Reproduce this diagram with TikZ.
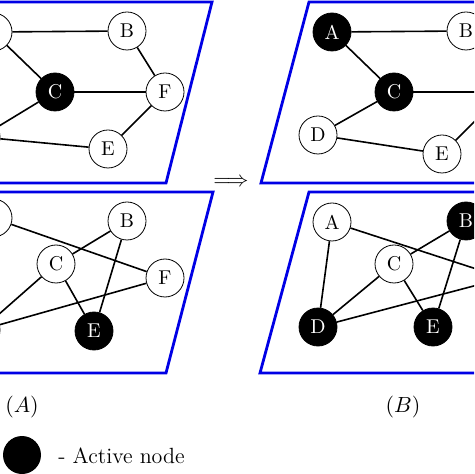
\documentclass[tikz,border=0pt]{standalone}
\begin{document}
\begin{tikzpicture}[x=0.5pt,y=-0.5pt,
  vtx/.style={circle,draw=black,line width=0.4pt,fill=white,minimum size=19pt,inner sep=0pt,font=\normalsize},
  act/.style={vtx,fill=black,text=white},
  edge/.style={line width=0.8pt},
  lbl/.style={font=\fontsize{11}{13}\selectfont},
  panel/.style={draw=blue!90!black,line width=1.4pt}]
\useasboundingbox (0,0) rectangle (474,474);
\clip (0,0) rectangle (474,474);
% panels
\draw[panel] (-29,2) -- (212,2) -- (166,183) -- (-77,183) -- cycle;
\draw[panel] (309,2) -- (551,2) -- (505,183) -- (261,183) -- cycle;
\draw[panel] (-29,192) -- (213,192) -- (166,373) -- (-77,373) -- cycle;
\draw[panel] (309,192) -- (551,192) -- (505,373) -- (260,373) -- cycle;
% top-left graph
\node[vtx] (tlA) at (-7,32) {A};
\node[vtx] (tlB) at (127,31) {B};
\node[act] (tlC) at (55,92) {C};
\node[vtx] (tlD) at (-19,137) {D};
\node[vtx] (tlE) at (108,149) {E};
\node[vtx] (tlF) at (165,92) {F};
% top-right graph
\node[act] (trA) at (332,32) {A};
\node[vtx] (trB) at (466,31) {B};
\node[act] (trC) at (394,92) {C};
\node[vtx] (trD) at (318,135) {D};
\node[vtx] (trE) at (442,154) {E};
\node[vtx] (trF) at (504,92) {F};
% bottom-left graph
\node[vtx] (blA) at (-7,218) {A};
\node[vtx] (blB) at (127,221) {B};
\node[vtx] (blC) at (56,264) {C};
\node[vtx] (blD) at (-19,330) {D};
\node[act] (blE) at (94,331) {E};
\node[vtx] (blF) at (165,278) {F};
% bottom-right graph
\node[vtx] (brA) at (332,222) {A};
\node[act] (brB) at (466,221) {B};
\node[vtx] (brC) at (394,264) {C};
\node[act] (brD) at (318,327) {D};
\node[act] (brE) at (433,327) {E};
\node[vtx] (brF) at (504,278) {F};
% edges
\foreach \p in {tl,tr}{
  \draw[edge] (\p A) -- (\p B);
  \draw[edge] (\p A) -- (\p C);
  \draw[edge] (\p C) -- (\p F);
  \draw[edge] (\p B) -- (\p F);
  \draw[edge] (\p C) -- (\p D);
  \draw[edge] (\p D) -- (\p E);
  \draw[edge] (\p E) -- (\p F);
}
\foreach \p in {bl,br}{
  \draw[edge] (\p A) -- (\p F);
  \draw[edge] (\p A) -- (\p D);
  \draw[edge] (\p B) -- (\p C);
  \draw[edge] (\p B) -- (\p E);
  \draw[edge] (\p C) -- (\p D);
  \draw[edge] (\p C) -- (\p E);
  \draw[edge] (\p D) -- (\p F);
}
% arrow
\node[lbl,inner sep=0pt] (arr) at (231,182) {$\Longrightarrow$};
% labels
\node[lbl] (labA) at (22,407) {$(A)$};
\node[lbl] (labB) at (403,407) {$(B)$};
% legend
\node[circle,fill=black,minimum size=19pt,inner sep=0pt] (leg) at (22,455) {};
\node[lbl,anchor=west,inner sep=0pt] (legtxt) at (58,456) {- Active node};
\end{tikzpicture}
\end{document}
